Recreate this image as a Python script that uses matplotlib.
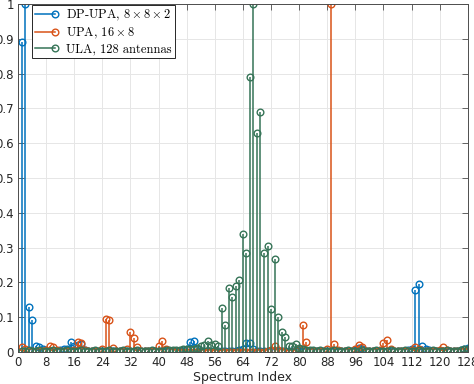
import matplotlib
matplotlib.use("Agg")
import matplotlib.pyplot as plt
import numpy as np
from matplotlib.lines import Line2D
from matplotlib.legend_handler import HandlerBase

idx = np.arange(1, 129)

dp_upa = [
    0.890, 1.000, 0.130, 0.092, 0.016, 0.014, 0.010, 0.004, 0.003, 0.003, 0.004, 0.005, 0.008, 0.010, 0.030, 0.018,
    0.020, 0.022, 0.006, 0.003, 0.002, 0.002, 0.002, 0.003, 0.004, 0.003, 0.002, 0.002, 0.002, 0.002, 0.003, 0.004,
    0.004, 0.003, 0.002, 0.002, 0.002, 0.002, 0.002, 0.002, 0.003, 0.002, 0.002, 0.002, 0.002, 0.003, 0.006, 0.010,
    0.030, 0.033, 0.010, 0.004, 0.002, 0.002, 0.002, 0.002, 0.002, 0.002, 0.002, 0.002, 0.002, 0.003, 0.005, 0.008,
    0.026, 0.026, 0.008, 0.004, 0.002, 0.002, 0.002, 0.002, 0.003, 0.002, 0.002, 0.002, 0.002, 0.002, 0.002, 0.002,
    0.002, 0.002, 0.002, 0.002, 0.002, 0.002, 0.002, 0.002, 0.002, 0.002, 0.002, 0.002, 0.002, 0.002, 0.003, 0.006,
    0.012, 0.010, 0.004, 0.002, 0.002, 0.002, 0.002, 0.002, 0.002, 0.002, 0.002, 0.002, 0.003, 0.004, 0.006, 0.010,
    0.178, 0.195, 0.016, 0.008, 0.005, 0.003, 0.002, 0.002, 0.002, 0.002, 0.003, 0.003, 0.004, 0.006, 0.008, 0.012,
]

upa = [
    0.013, 0.010, 0.004, 0.002, 0.002, 0.002, 0.003, 0.006, 0.016, 0.015, 0.006, 0.002, 0.002, 0.002, 0.003, 0.006,
    0.030, 0.026, 0.006, 0.002, 0.002, 0.002, 0.003, 0.010, 0.095, 0.092, 0.012, 0.003, 0.002, 0.003, 0.010, 0.057,
    0.041, 0.015, 0.004, 0.002, 0.002, 0.002, 0.004, 0.016, 0.031, 0.010, 0.003, 0.002, 0.001, 0.001, 0.001, 0.001,
    0.001, 0.001, 0.001, 0.001, 0.001, 0.001, 0.001, 0.001, 0.001, 0.001, 0.001, 0.001, 0.001, 0.001, 0.001, 0.001,
    0.001, 0.001, 0.001, 0.001, 0.001, 0.001, 0.002, 0.006, 0.018, 0.006, 0.002, 0.001, 0.001, 0.001, 0.002, 0.008,
    0.079, 0.030, 0.004, 0.002, 0.002, 0.002, 0.003, 0.010, 1.000, 0.023, 0.006, 0.002, 0.002, 0.002, 0.003, 0.008,
    0.020, 0.015, 0.004, 0.002, 0.002, 0.002, 0.006, 0.025, 0.034, 0.010, 0.003, 0.002, 0.002, 0.002, 0.003, 0.006,
    0.013, 0.008, 0.003, 0.002, 0.002, 0.002, 0.003, 0.006, 0.013, 0.006, 0.002, 0.002, 0.002, 0.002, 0.002, 0.002,
]

ula = [
    0.004, 0.004, 0.005, 0.004, 0.004, 0.005, 0.004, 0.004, 0.004, 0.005, 0.004, 0.004, 0.004, 0.005, 0.004, 0.004,
    0.004, 0.005, 0.004, 0.004, 0.004, 0.005, 0.004, 0.004, 0.004, 0.005, 0.004, 0.004, 0.004, 0.005, 0.004, 0.004,
    0.004, 0.005, 0.004, 0.004, 0.004, 0.005, 0.004, 0.004, 0.004, 0.005, 0.005, 0.005, 0.006, 0.006, 0.008, 0.010,
    0.008, 0.010, 0.012, 0.016, 0.020, 0.032, 0.020, 0.022, 0.018, 0.127, 0.077, 0.184, 0.157, 0.190, 0.206, 0.339,
    0.284, 0.790, 1.000, 0.630, 0.690, 0.284, 0.305, 0.123, 0.267, 0.100, 0.058, 0.042, 0.018, 0.018, 0.022, 0.012,
    0.008, 0.006, 0.005, 0.005, 0.004, 0.005, 0.004, 0.004, 0.004, 0.005, 0.004, 0.004, 0.004, 0.005, 0.004, 0.004,
    0.004, 0.005, 0.004, 0.004, 0.004, 0.005, 0.004, 0.004, 0.004, 0.005, 0.004, 0.004, 0.004, 0.005, 0.004, 0.004,
    0.004, 0.005, 0.004, 0.004, 0.004, 0.005, 0.004, 0.004, 0.004, 0.005, 0.004, 0.004, 0.004, 0.005, 0.010, 0.008,
]

labels = [r"DP-UPA, $8\times8\times2$", r"UPA, $16\times8$", r"ULA, 128 antennas"]
colors = ["#0072BD", "#D95319", "#367457"]

plt.rcParams["mathtext.fontset"] = "cm"
plt.rcParams["font.family"] = ["DejaVu Sans"]

fig = plt.figure(figsize=(4.74, 3.84), dpi=100)
ax = fig.add_axes([0.038, 0.0833, 0.949, 0.9063])

for vals, c in zip([dp_upa, upa, ula], colors):
    m, s, b = ax.stem(idx, vals, basefmt=" ")
    s.set_color(c)
    s.set_linewidth(1.1)
    m.set_color(c)
    m.set_markerfacecolor("none")
    m.set_markersize(4.8)
    m.set_markeredgewidth(1.0)

ax.set_xlim(0, 128)
ax.set_ylim(0, 1)
ax.set_xticks(np.arange(0, 129, 8))
ax.set_yticks(np.arange(0, 1.01, 0.1))
ax.set_yticklabels(["0", "0.1", "0.2", "0.3", "0.4", "0.5", "0.6", "0.7", "0.8", "0.9", "1"])
ax.grid(True, color="#e6e6e6", linewidth=0.7)
ax.set_axisbelow(True)
ax.tick_params(direction="in", top=True, right=True, length=4, width=0.6,
               colors="#4d4d4d", labelsize=8.5, labelcolor="#262626", pad=3)
for sp in ax.spines.values():
    sp.set_color("#4d4d4d")
    sp.set_linewidth(0.7)
ax.set_xlabel("Spectrum Index", fontsize=9, color="#262626", labelpad=1.5)


class StemHandler(HandlerBase):
    def create_artists(self, legend, orig, xdescent, ydescent, width, height, fontsize, trans):
        y = height / 2 - ydescent
        c = orig.get_color()
        ln = Line2D([-xdescent, -xdescent + width], [y, y], color=c, lw=1.1)
        mk = Line2D([-xdescent + width], [y], marker="o", mfc="none", mec=c, ms=4.8, mew=1.0, ls="none")
        ln.set_transform(trans)
        mk.set_transform(trans)
        return [ln, mk]


handles = [Line2D([], [], color=c) for c in colors]
leg = ax.legend(handles, labels, loc="upper left", bbox_to_anchor=(0.031, 0.998),
                handler_map={Line2D: StemHandler()}, fancybox=False, framealpha=1,
                edgecolor="#262626", borderaxespad=0, handlelength=1.6, handletextpad=0.9,
                labelspacing=0.2, borderpad=0.25,
                prop={"family": "cmr10", "size": 9})
leg.get_frame().set_linewidth(0.7)

fig.savefig("out.png", dpi=100)
